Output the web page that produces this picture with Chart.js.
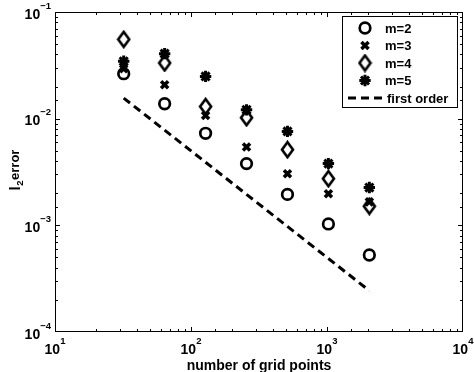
<!DOCTYPE html>
<html>
<head>
<meta charset="utf-8">
<script src="https://cdn.jsdelivr.net/npm/chart.js@4.4.1/dist/chart.umd.min.js"></script>
<style>
html,body{margin:0;padding:0;background:#fff;}
#wrap{width:474px;height:372px;}
</style>
</head>
<body>
<div id="wrap"><canvas id="c" width="474" height="372"></canvas></div>
<script>
// ---- data ----
const gridPoints = [32, 64, 128, 256, 512, 1024, 2048];
const errM2 = [0.0264, 0.0138, 0.00729, 0.00379, 0.00195, 0.00103, 0.000527];
const errM3 = [0.0294, 0.0208, 0.0107, 0.00542, 0.00305, 0.00198, 0.00166];
const errM4 = [0.0554, 0.0333, 0.0130, 0.0102, 0.00512, 0.00274, 0.00151];
const errM5 = [0.0345, 0.0407, 0.0249, 0.0121, 0.0076, 0.00379, 0.00226];
const firstOrderX = [32, 2048];
const firstOrderY = [0.0156, 0.000244];
const seriesLabels = ['m=2', 'm=3', 'm=4', 'm=5', 'first order'];
const xAxisTitle = 'number of grid points';
const yAxisTitle = ['l', '2', 'error'];   // l, subscript 2, error

const FONT = '"Liberation Sans", Arial, Helvetica, sans-serif';

function decadeExp(v){
  const l = Math.log10(v), e = Math.round(l);
  if (Math.abs(l - e) > 1e-6) return null;
  return e;
}
function expText(e){ return (e < 0 ? '\u2212' : '') + String(Math.abs(e)); }
function pts(xs, ys){ return xs.map((x, i) => ({x: x, y: ys[i]})); }

// diamond marker (slightly taller than wide)
function makeDiamond(){
  const cv = document.createElement('canvas');
  cv.width = 15; cv.height = 19;
  const g = cv.getContext('2d');
  g.strokeStyle = '#000'; g.lineWidth = 2.6; g.lineJoin = 'miter';
  g.beginPath();
  g.moveTo(7.5, 2); g.lineTo(13, 9.5); g.lineTo(7.5, 17); g.lineTo(2, 9.5); g.closePath();
  g.stroke();
  return cv;
}
const diamond = makeDiamond();

function drawMarker(ctx, ds, x, y){
  const st = ds.pointStyle;
  ctx.save();
  ctx.strokeStyle = '#000'; ctx.lineWidth = ds.borderWidth;
  if (st instanceof HTMLCanvasElement){
    ctx.drawImage(st, x - st.width/2, y - st.height/2);
  } else if (st === 'circle'){
    ctx.beginPath(); ctx.arc(x, y, ds.pointRadius, 0, Math.PI*2); ctx.stroke();
  } else if (st === 'crossRot' || st === 'star'){
    const r = ds.pointRadius, d = r*Math.SQRT1_2;
    ctx.beginPath();
    ctx.moveTo(x-d, y-d); ctx.lineTo(x+d, y+d);
    ctx.moveTo(x-d, y+d); ctx.lineTo(x+d, y-d);
    if (st === 'star'){
      ctx.moveTo(x-r, y); ctx.lineTo(x+r, y);
      ctx.moveTo(x, y-r); ctx.lineTo(x, y+r);
    }
    ctx.stroke();
  }
  ctx.restore();
}

const BASE_FONT = 'bold 14px ' + FONT;
const EXP_FONT = 'bold 9.5px ' + FONT;

const boxTicks = {
  id: 'boxTicks',
  afterDraw(chart){
    const {ctx, chartArea: a, scales} = chart;
    ctx.save();
    ctx.strokeStyle = '#000'; ctx.fillStyle = '#000'; ctx.lineWidth = 1;
    ctx.strokeRect(a.left + 0.5, a.top + 0.5, a.right - a.left - 1, a.bottom - a.top - 1);
    ctx.beginPath();
    scales.x.ticks.forEach(t => {
      const px = Math.round(scales.x.getPixelForValue(t.value)) + 0.5;
      if (px < a.left || px > a.right) return;
      const len = decadeExp(t.value) !== null ? 5 : 3;
      ctx.moveTo(px, a.bottom); ctx.lineTo(px, a.bottom - len);
      ctx.moveTo(px, a.top); ctx.lineTo(px, a.top + len);
    });
    scales.y.ticks.forEach(t => {
      const py = Math.round(scales.y.getPixelForValue(t.value)) + 0.5;
      if (py < a.top || py > a.bottom) return;
      const len = decadeExp(t.value) !== null ? 5 : 3;
      ctx.moveTo(a.left, py); ctx.lineTo(a.left + len, py);
      ctx.moveTo(a.right, py); ctx.lineTo(a.right - len, py);
    });
    ctx.stroke();

    // tick labels 10^n
    ctx.textBaseline = 'alphabetic';
    ctx.textAlign = 'left';
    scales.x.ticks.forEach(t => {
      const e = decadeExp(t.value); if (e === null) return;
      const px = scales.x.getPixelForValue(t.value);
      ctx.font = BASE_FONT; const wb = ctx.measureText('10').width;
      ctx.font = EXP_FONT; const es = expText(e); const we = ctx.measureText(es).width;
      const x0 = px - (wb + we) / 2;
      ctx.font = BASE_FONT; ctx.fillText('10', x0, a.bottom + 22);
      ctx.font = EXP_FONT; ctx.fillText(es, x0 + wb, a.bottom + 12);
    });
    scales.y.ticks.forEach(t => {
      const e = decadeExp(t.value); if (e === null) return;
      const py = scales.y.getPixelForValue(t.value);
      ctx.font = BASE_FONT; const wb = ctx.measureText('10').width;
      ctx.font = EXP_FONT; const es = expText(e); const we = ctx.measureText(es).width;
      const x0 = a.left - 4 - (wb + we);
      ctx.font = BASE_FONT; ctx.fillText('10', x0, py + 6.5);
      ctx.font = EXP_FONT; ctx.fillText(es, x0 + wb, py - 3.5);
    });

    // y axis title
    ctx.save();
    ctx.translate(20, (a.top + a.bottom) / 2 - 2);
    ctx.rotate(-Math.PI / 2);
    ctx.font = 'bold 15px ' + FONT; const w1 = ctx.measureText(yAxisTitle[0]).width;
    ctx.font = 'bold 9.5px ' + FONT; const w2 = ctx.measureText(yAxisTitle[1]).width;
    ctx.font = 'bold 13px ' + FONT; const w3 = ctx.measureText(yAxisTitle[2]).width;
    let xs = -(w1 + w2 + w3 + 1) / 2;
    ctx.font = 'bold 15px ' + FONT; ctx.fillText(yAxisTitle[0], xs, 0); xs += w1 + 0.5;
    ctx.font = 'bold 9.5px ' + FONT; ctx.fillText(yAxisTitle[1], xs, 2.5); xs += w2 + 0.5;
    ctx.font = 'bold 13px ' + FONT; ctx.fillText(yAxisTitle[2], xs, -1);
    ctx.restore();

    // legend box
    const lx = 342, ly = 16, lw = 115, lh = 91;
    ctx.fillStyle = '#fff';
    ctx.fillRect(lx, ly, lw, lh);
    ctx.strokeRect(lx + 0.5, ly + 0.5, lw, lh);
    ctx.fillStyle = '#000';
    ctx.font = 'bold 13px ' + FONT;
    ctx.textBaseline = 'middle';
    const rows = [28, 45.5, 63, 80.5, 98];
    const dsets = chart.data.datasets;
    for (let i = 0; i < 4; i++){
      drawMarker(ctx, dsets[i], 365, rows[i]);
      ctx.fillText(dsets[i].label, 385, rows[i] + 1);
    }
    ctx.beginPath();
    ctx.lineWidth = 3; ctx.setLineDash([8, 5]);
    ctx.moveTo(348, rows[4]); ctx.lineTo(384, rows[4]);
    ctx.stroke();
    ctx.setLineDash([]);
    ctx.fillText(dsets[4].label, 387, rows[4] + 1);
    ctx.restore();
  }
};

new Chart(document.getElementById('c'), {
  type: 'scatter',
  data: {
    datasets: [
      {label: seriesLabels[0], data: pts(gridPoints, errM2), pointStyle: 'circle', pointRadius: 5.3, borderWidth: 2.7, borderColor: '#000', backgroundColor: 'rgba(0,0,0,0)', showLine: false},
      {label: seriesLabels[1], data: pts(gridPoints, errM3), pointStyle: 'crossRot', pointRadius: 5, borderWidth: 3.5, borderColor: '#000', backgroundColor: '#000', showLine: false},
      {label: seriesLabels[2], data: pts(gridPoints, errM4), pointStyle: diamond, pointRadius: 8, borderWidth: 2.6, borderColor: '#000', backgroundColor: 'rgba(0,0,0,0)', showLine: false},
      {label: seriesLabels[3], data: pts(gridPoints, errM5), pointStyle: 'star', pointRadius: 5.7, borderWidth: 3, borderColor: '#000', backgroundColor: '#000', showLine: false},
      {label: seriesLabels[4], data: pts(firstOrderX, firstOrderY), showLine: true, pointRadius: 0, borderColor: '#000', borderWidth: 3, borderDash: [8, 5], backgroundColor: '#000'}
    ]
  },
  options: {
    responsive: false,
    animation: false,
    events: [],
    layout: {padding: {top: 12, right: 11, left: 0, bottom: 0}},
    plugins: {legend: {display: false}, tooltip: {enabled: false}},
    scales: {
      x: {
        type: 'logarithmic', min: 10, max: 10000,
        grid: {display: false, drawTicks: false},
        border: {display: false},
        ticks: {display: false, autoSkip: false},
        title: {display: true, text: xAxisTitle, color: '#000',
          font: {family: FONT, size: 14, weight: 'bold'}, padding: {top: 0, bottom: -3}},
        afterFit: (s) => { s.height = 40; }
      },
      y: {
        type: 'logarithmic', min: 0.0001, max: 0.1,
        grid: {display: false, drawTicks: false},
        border: {display: false},
        ticks: {display: false, autoSkip: false},
        title: {display: false},
        afterFit: (s) => { s.width = 55; }
      }
    }
  },
  plugins: [boxTicks]
});
</script>
</body>
</html>
